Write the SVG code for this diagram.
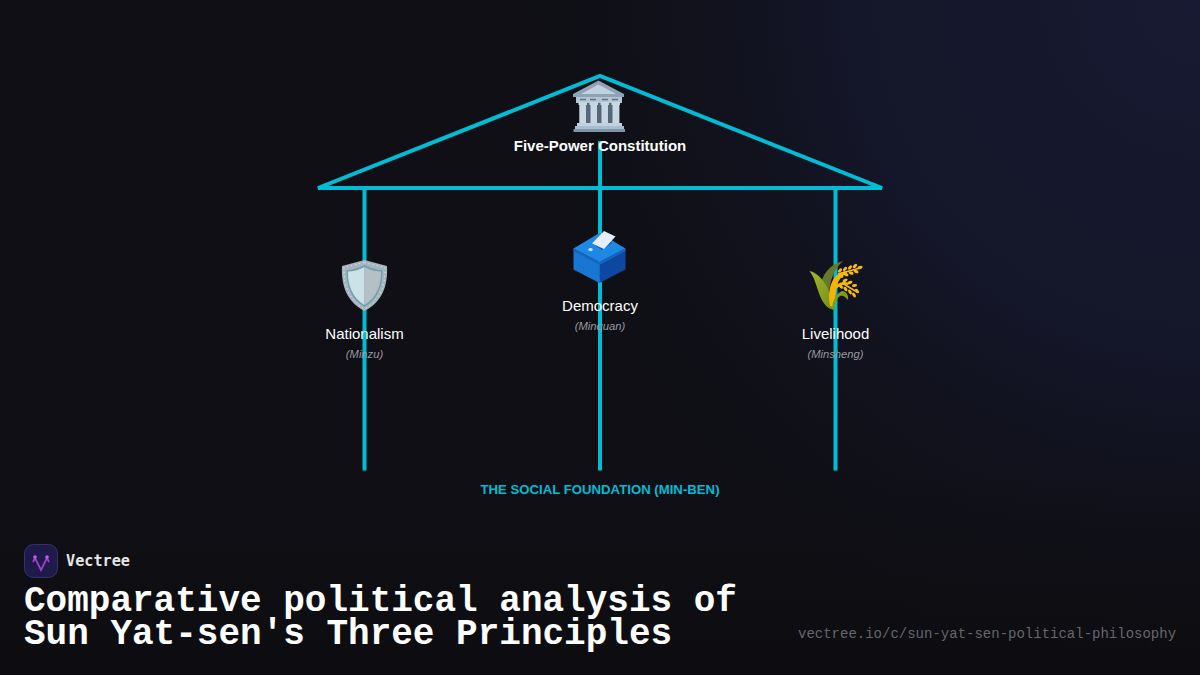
<svg xmlns="http://www.w3.org/2000/svg" width="1200" height="675" viewBox="0 0 1200 675">
<style>
.wire{stroke:#00bcd4;stroke-width:4;fill:none;stroke-linecap:butt}
text{font-family:"Liberation Sans",Arial,sans-serif;text-anchor:middle}
.lbl{font-size:15px;fill:#fff}
.sub{font-size:11.200px;font-style:italic;fill:#9a9aa0}
.mono{font-family:"Liberation Mono","Courier New",monospace;text-anchor:start}
.title{font-size:36px;font-weight:700;fill:#fff}
.grain{fill:#fbbc0c}
</style>
<defs>
<radialGradient id="glow" gradientUnits="userSpaceOnUse" cx="1200" cy="0" r="720">
<stop offset="0" stop-color="#171a32"/><stop offset="0.5" stop-color="#15172c" stop-opacity=".85"/><stop offset="1" stop-color="#0f1016" stop-opacity="0"/>
</radialGradient>
<linearGradient id="fade" x1="0" y1="0" x2="0" y2="1"><stop offset="0" stop-color="#0d0d11" stop-opacity="0"/><stop offset="1" stop-color="#0d0d11"/></linearGradient>
<linearGradient id="leaf" x1="0" y1="0" x2="1" y2="1"><stop offset="0" stop-color="#a4b52a"/><stop offset="1" stop-color="#6f8f1a"/></linearGradient>
<ellipse id="g" rx="2.600" ry="1.500" class="grain"/>
</defs>
<g id="background">
<rect width="1200" height="675" fill="#0f0f15"/>
<rect width="1200" height="675" fill="url(#glow)"/>
<rect y="470" width="1200" height="205" fill="url(#fade)"/>
</g>
<g id="connectors">
<path class="wire" d="M318 188L600 76L882 188Z" stroke-linejoin="miter" stroke-miterlimit="2"/>
<path class="wire" d="M364.500 188V470.500M600 141V470.500M835.500 188V470.500"/>
</g>
<g id="node-constitution">
<path d="M598.500 80.500L624 94V97H573V94Z" fill="#8fa3b8"/>
<path d="M598.500 84.500L616 94H581Z" fill="#c2d1de"/>
<rect x="576" y="97" width="46" height="6" fill="#b4c5d4"/>
<path d="M580 99.500h6M590 99.500h6M602 99.500h6M612 99.500h6" stroke="#5f7385" stroke-width="1.500"/>
<rect x="579" y="103" width="41" height="21" fill="#566878"/>
<g fill="#c9d7e3">
<rect x="578.500" y="102" width="8.500" height="3"/><rect x="589.500" y="102" width="8.500" height="3"/><rect x="600.500" y="102" width="8.500" height="3"/><rect x="611.500" y="102" width="8.500" height="3"/>
<rect x="579.500" y="105" width="6.500" height="19"/><rect x="590.500" y="105" width="6.500" height="19"/><rect x="601.500" y="105" width="6.500" height="19"/><rect x="612.500" y="105" width="6.500" height="19"/>
</g>
<rect x="577" y="123" width="45" height="3" fill="#c2d1de"/>
<rect x="575" y="126" width="49" height="3" fill="#a9bccd"/>
<rect x="573.500" y="129" width="51.500" height="3" fill="#8094a8"/>
<text class="lbl" x="600" y="151" font-weight="700">Five-Power Constitution</text>
</g>
<g id="node-nationalism">
<path d="M364.500 260L387 266C388 286 382 302 364.500 311C347 302 341 286 342 266Z" fill="#a7b5be"/>
<path d="M364.500 262.500L385 267.500C385.500 286 380 300 364.500 309C349 300 343.500 286 344 267.500Z" fill="none" stroke="#dfe7ec" stroke-width="1" stroke-dasharray="1.200 3"/>
<path d="M364.500 265C371.500 268.500 377 270 382.500 270C383 285 378 299.500 364.500 307C351 299.500 346 285 346.500 270C352 270 357.500 268.500 364.500 265Z" fill="#6f9fb1"/>
<path d="M364.500 267V305C352 297.500 347.500 284.500 348 271.500C353.500 271.500 358.500 270 364.500 267Z" fill="#cbe3e8"/>
<path d="M364.500 267V305C377 297.500 381.500 284.500 381 271.500C375.500 271.500 370.500 270 364.500 267Z" fill="#b4bfc6"/>
<text class="lbl" x="364.500" y="339">Nationalism</text>
<text class="sub" x="364.500" y="358">(Minzu)</text>
</g>
<g id="node-democracy">
<path d="M599.500 283L573.500 269.500V248.500L599.500 262Z" fill="#1976d2"/>
<path d="M599.500 283L625.500 269.500V248.500L599.500 262Z" fill="#0d47a1"/>
<path d="M573.500 248.500L599.500 233L625.500 248.500L599.500 262Z" fill="#1e88e5"/>
<path d="M573.500 248.500V251L599.500 265L625.500 251V248.500L599.500 262Z" fill="#1565c0"/>
<path d="M592 243.500L602 250L612 243L608 240L600 240Z" fill="#0f5fb0"/>
<path d="M592 243.500L604 231L615.500 236.500L604 249Z" fill="#e3eef8"/>
<ellipse cx="590.500" cy="249.500" rx="2.200" ry="1.500" fill="#cfe3f3"/>
<text class="lbl" x="600" y="311">Democracy</text>
<text class="sub" x="600" y="330">(Minquan)</text>
</g>
<g id="node-livelihood">
<path d="M843 261C830 264 821 275 820 289C820 298 824 304 829 308C828 290 830 273 843 261Z" fill="#66782c"/>
<path d="M809.500 271C819 273 826 283 830 294C833 301 835 306 835 310C829 310 824 305 820 296C816 286 815 278 809.500 271Z" fill="url(#leaf)"/>
<path d="M830 306C828 296 829 287 833 280C836 275 840 272 846 271L847 273C841 276 837 282 836 290C835 297 835 302 835 307Z" fill="#f4b400"/>
<path d="M835 286C839 282 845 281 849 283L848 285C844 284 840 285 836 289Z" fill="#f4b400"/>
<path d="M832 308C833 299 837 293 842 291C846 291 849 295 848 300C845 296 842 295 840 296C837 298 835 303 834 310Z" fill="#7e9a1f"/>
<path d="M838 274L860 268" stroke="#fbbc0c" stroke-width="1.500" fill="none"/>
<path d="M842 283L857 292" stroke="#fbbc0c" stroke-width="1.500" fill="none"/>
<g>
<use href="#g" transform="translate(840 270.500) rotate(-45)"/><use href="#g" transform="translate(845 269) rotate(-45)"/><use href="#g" transform="translate(850 267.500) rotate(-45)"/><use href="#g" transform="translate(855 266) rotate(-40)"/>
<use href="#g" transform="translate(841 276) rotate(20)"/><use href="#g" transform="translate(846 274.500) rotate(20)"/><use href="#g" transform="translate(851 273) rotate(20)"/><use href="#g" transform="translate(856 271.500) rotate(20)"/>
<use href="#g" transform="translate(860 267.500) rotate(-15)"/>
<use href="#g" transform="translate(845 280.500) rotate(-30)"/><use href="#g" transform="translate(850 282.500) rotate(-20)"/><use href="#g" transform="translate(854.500 285.500) rotate(-10)"/>
<use href="#g" transform="translate(841 286.500) rotate(50)"/><use href="#g" transform="translate(845.500 289) rotate(50)"/><use href="#g" transform="translate(850 292) rotate(55)"/><use href="#g" transform="translate(854 295) rotate(55)"/>
<use href="#g" transform="translate(857 291) rotate(50)"/>
</g>
<text class="lbl" x="835.500" y="339">Livelihood</text>
<text class="sub" x="835.500" y="358">(Minsheng)</text>
</g>
<g id="foundation-label">
<text x="600" y="494" font-size="13.200" font-weight="700" fill="#00bcd4">THE SOCIAL FOUNDATION (MIN-BEN)</text>
</g>
<g id="brand">
<rect x="24.500" y="544.500" width="33" height="33" rx="9" fill="#1e1b4b" stroke="#37336a"/>
<path d="M35 558L41 570L47 558M35 558L33 562M47 558L49 562" fill="none" stroke="#a03fd0" stroke-width="1.700"/>
<circle cx="35" cy="557" r="1.800" fill="#c85ce6"/><circle cx="47" cy="557" r="1.800" fill="#c85ce6"/>
<text class="mono" x="66" y="566" font-size="15.200" font-weight="700" fill="#e5e5e5" style="font-family:'DejaVu Sans Mono',monospace">Vectree</text>
</g>
<g id="title">
<text class="mono title" x="24" y="611">Comparative political analysis of</text>
<text class="mono title" x="24" y="644">Sun Yat-sen's Three Principles</text>
</g>
<text class="mono" x="798" y="638" font-size="14" fill="#66666c">vectree.io/c/sun-yat-sen-political-philosophy</text>
</svg>
